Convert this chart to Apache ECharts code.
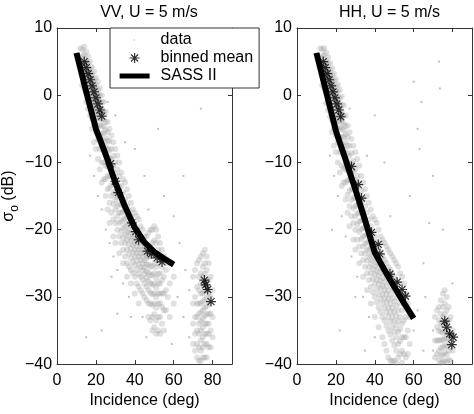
<!DOCTYPE html>
<html>
<head>
<meta charset="utf-8">
<script src="https://cdn.jsdelivr.net/npm/echarts@6/dist/echarts.min.js"></script>
<style>
html,body{margin:0;padding:0;background:#fff;}
#chart{width:474px;height:414px;}
</style>
</head>
<body>
<div id="chart"></div>
<script>
// ---------- DATA ----------
const panelTitles = ['VV, U = 5 m/s', 'HH, U = 5 m/s'];
const xAxisName = 'Incidence (deg)';
const yAxisName = '{s|σ}{o|o}{s| (dB)}';
const legendNames = ['data', 'binned mean', 'SASS II'];

// gray measurement cloud, per incidence column: [incidence, [sigma0 values]]
const vvCloud = [
 [12,[7,5.5,4.5]],
 [13,[6.8,5.8,4.2,3,1.5]],
 [14,[7.2,6,5,4.4,3.6,2.5,1]],
 [15,[6.5,5.2,4.6,3.8,3,2.2,0.5,-1]],
 [16,[5.8,4.8,4,3.4,2.6,1.8,0.8,-0.6,-2]],
 [17,[5,4,3.3,2.6,1.8,1,0.2,-1.2,-3]],
 [18,[4.2,3.2,2.4,1.8,1,0.2,-0.8,-2,-3.5,-5]],
 [19,[3.5,2.4,1.5,0.8,0,-0.8,-1.8,-3,-4.5,-7]],
 [20,[2.6,1.6,0.8,0,-0.8,-1.6,-2.6,-3.8,-5.5,-8]],
 [21,[2,0.8,0,-0.8,-1.6,-2.4,-3.4,-4.6,-6.5,-9.5]],
 [22,[1,0,-1,-1.8,-2.6,-3.4,-4.4,-6,-8,-11]],
 [23,[0,-1,-2,-2.8,-3.6,-4.6,-5.8,-7.5,-10,-13]],
 [24,[-1,-2.4,-3.6,-4.6,-5.6,-6.8,-8.2,-10,-12.5]],
 [25,[-2.5,-4,-5.2,-6.4,-7.6,-9,-10.5,-12.5,-15]],
 [26,[-4,-5.5,-6.8,-8,-9.2,-10.6,-12,-14,-17]],
 [27,[-5,-6.8,-8.2,-9.4,-10.6,-12,-13.8,-16,-19]],
 [28,[-6,-8,-9.5,-10.8,-12,-13.4,-15,-17.5]],
 [29,[-7,-9,-10.5,-12,-13.2,-14.6,-16.2,-18.5,-21]],
 [30,[-8,-10,-11.6,-13,-14.3,-15.6,-17,-19,-22]],
 [31,[-9,-11,-12.6,-14,-15.2,-16.5,-18,-20]],
 [32,[-10,-12,-13.6,-15,-16.2,-17.5,-19,-21,-23.5]],
 [33,[-11.5,-13.5,-15,-16.3,-17.5,-18.8,-20.2,-22]],
 [34,[-12.5,-14.5,-16,-17.3,-18.5,-19.8,-21.2,-23,-25]],
 [35,[-13,-15.5,-17,-18.3,-19.5,-20.7,-22,-24]],
 [36,[-14,-16.5,-18,-19.2,-20.3,-21.5,-23,-25,-27]],
 [37,[-15,-17.2,-18.8,-20,-21,-22.2,-23.6,-25.5]],
 [38,[-16,-18,-19.5,-20.6,-21.6,-22.8,-24.2,-26,-28]],
 [39,[-17,-19,-20.3,-21.3,-22.3,-23.4,-24.8,-26.5]],
 [40,[-17.5,-19.5,-21,-22,-23,-24,-25.3,-27,-29.5]],
 [41,[-18,-20,-21.5,-22.5,-23.5,-24.6,-26,-28]],
 [42,[-18.5,-20.5,-22,-23,-24,-25.2,-26.6,-28.5,-31]],
 [43,[-19.5,-21,-22.5,-23.5,-24.5,-25.6,-27,-29]],
 [44,[-20,-21.6,-23,-24,-25,-26,-27.4,-29.5]],
 [45,[-21,-22.5,-23.6,-24.6,-25.6,-26.6,-28,-30]],
 [46,[-21,-23,-24.2,-25.2,-26.2,-27.2,-28.5,-30.5]],
 [47,[-20.5,-22.5,-24,-25.2,-26.4,-27.6,-29,-31,-33]],
 [48,[-20,-22.5,-24,-25.5,-26.8,-28,-29.4,-31,-33.5]],
 [49,[-20,-22,-23.8,-25.4,-26.8,-28.2,-29.6,-31.2,-33,-35]],
 [50,[-19.5,-21.6,-23.4,-25,-26.5,-28,-29.5,-31,-32.6,-34.5]],
 [51,[-20,-22,-24,-25.6,-27.2,-28.6,-30,-31.6,-33.5,-35.5]],
 [52,[-21,-23,-25,-26.6,-28,-29.5,-31,-33,-35]],
 [53,[-22,-24.5,-26.5,-28,-29.5,-31,-33,-35.5]],
 [54,[-23,-25.5,-27.5,-29.5,-31.5,-34]],
 [55,[-24,-27,-29.5,-32,-35]],
 [56,[-26,-29,-32]],
 [57,[-25,-30]],
 [58,[-28,-33]],
 [60,[-27,-31]],
 [70,[-27,-31,-34,-37]],
 [71,[-26,-30,-33,-35.5,-38]],
 [72,[-25,-28.5,-31,-33,-35,-37,-39]],
 [73,[-24.5,-27,-29,-31,-32.5,-34,-35.5,-37.5,-39.5]],
 [74,[-24,-26.5,-28,-29.5,-31,-32.3,-33.6,-35,-36.5,-38,-39.5]],
 [75,[-23.5,-25.5,-27,-28.3,-29.5,-30.7,-32,-33.2,-34.5,-36,-37.5,-39]],
 [76,[-23,-25,-26.6,-28,-29.2,-30.4,-31.6,-32.8,-34,-35.5,-37,-39]],
 [77,[-24,-26,-27.6,-29,-30.2,-31.4,-32.6,-34,-35.5,-37,-39]],
 [78,[-25,-27.5,-29.5,-31,-32.5,-34,-35.5,-37.5]],
 [79,[-27,-30,-32.5,-35,-37.5]],
 [80,[-29,-33,-36]]
];
// isolated single samples (small specks)
const vvOutliers = [[30,-3],[45,-12],[52,-5],[60,-18],[63,-22],[74,-2],[38,-33],[28,-27],[15,-36],[23,-35],[31,-32.5],[65,-12],[55,-15],[40,-8],
 [17,-9],[19,-12],[21,-15],[23,-17],[25,-20],[27,-22],[29,-24],[31,-26],[34,-28],[37,-30],[44,-33],[46,-36],
 [62,-30],[65,-33],[68,-29],[68,-36],[59,-37],[66,-26],[47,-17],[35,-7],[26,-1]];

const hhCloud = [
 [12,[7,5.5,4.5]],
 [13,[6.8,5.8,4.2,3,1.5]],
 [14,[7,6,5,4.3,3.5,2.4,1]],
 [15,[6.3,5.1,4.4,3.7,2.9,2,0.4,-1.2]],
 [16,[5.6,4.6,3.8,3.2,2.4,1.6,0.6,-0.8,-2.2]],
 [17,[4.8,3.8,3,2.4,1.6,0.8,0,-1.4,-3.2]],
 [18,[4,3,2.2,1.5,0.8,0,-1,-2.2,-3.8,-5.5]],
 [19,[3.2,2.2,1.3,0.5,-0.3,-1.1,-2,-3.3,-5,-7.5]],
 [20,[2.4,1.3,0.5,-0.3,-1.1,-1.9,-2.9,-4.2,-6,-8.5]],
 [21,[1.6,0.5,-0.4,-1.2,-2,-2.8,-3.8,-5,-7,-10]],
 [22,[0.8,-0.4,-1.4,-2.2,-3,-3.8,-4.8,-6.3,-8.5,-11.5]],
 [23,[-0.2,-1.4,-2.4,-3.2,-4,-5,-6.2,-7.8,-10.5,-13.5]],
 [24,[-1.5,-3,-4.2,-5.2,-6.2,-7.4,-8.8,-10.8,-13]],
 [25,[-3,-4.6,-5.8,-7,-8.2,-9.5,-11,-13,-15.5]],
 [26,[-4.5,-6.2,-7.5,-8.7,-9.9,-11.2,-12.7,-14.8,-17.5]],
 [27,[-5.5,-7.5,-9,-10.2,-11.4,-12.6,-14.2,-16.5,-19.5]],
 [28,[-6.5,-8.6,-10.2,-11.5,-12.7,-14,-15.6,-18]],
 [29,[-7.5,-9.8,-11.4,-12.8,-14,-15.3,-16.8,-19,-21.5]],
 [30,[-8.5,-11,-12.6,-14,-15.2,-16.5,-18,-20,-23]],
 [31,[-9.5,-12,-13.6,-15,-16.3,-17.6,-19.2,-21.5]],
 [32,[-10.5,-13,-14.8,-16.2,-17.5,-18.8,-20.3,-22.5,-25]],
 [33,[-12,-14.2,-16,-17.4,-18.6,-19.9,-21.4,-23.5]],
 [34,[-13,-15.5,-17.2,-18.6,-19.8,-21,-22.5,-24.5,-27]],
 [35,[-14,-16.5,-18.3,-19.7,-20.9,-22.1,-23.6,-25.5]],
 [36,[-15,-17.5,-19.3,-20.7,-21.9,-23.1,-24.6,-26.5,-29]],
 [37,[-16,-18.5,-20.3,-21.7,-22.9,-24.1,-25.6,-27.5]],
 [38,[-17,-19.5,-21.2,-22.6,-23.8,-25,-26.5,-28.5,-31]],
 [39,[-18,-20.3,-22,-23.4,-24.6,-25.8,-27.3,-29.3]],
 [40,[-18.5,-21,-22.8,-24.2,-25.4,-26.6,-28,-30,-33]],
 [41,[-19,-21.8,-23.6,-25,-26.2,-27.4,-28.8,-30.8]],
 [42,[-20,-22.5,-24.3,-25.7,-26.9,-28.1,-29.6,-31.6,-34.5]],
 [43,[-21,-23.3,-25,-26.4,-27.6,-28.8,-30.3,-32.3]],
 [44,[-21.5,-24,-25.8,-27.2,-28.4,-29.6,-31,-33,-36]],
 [45,[-22,-24.5,-26.4,-27.8,-29,-30.2,-31.6,-33.5,-37]],
 [46,[-22.5,-25,-27,-28.4,-29.6,-30.8,-32.3,-34.3,-38]],
 [47,[-23,-25.6,-27.5,-29,-30.3,-31.6,-33,-35,-39]],
 [48,[-23.5,-26,-28,-29.6,-31,-32.3,-33.7,-35.6,-39.5]],
 [49,[-24,-26.6,-28.6,-30.2,-31.6,-33,-34.5,-36.5,-39.5]],
 [50,[-24.5,-27,-29,-30.7,-32.2,-33.6,-35.2,-37.2,-39.5]],
 [51,[-25,-27.6,-29.6,-31.3,-32.8,-34.3,-36,-38,-39.8]],
 [52,[-25.5,-28,-30.2,-32,-33.6,-35.2,-37,-39]],
 [53,[-26.5,-29,-31,-33,-34.8,-36.6,-38.5]],
 [54,[-27,-29.8,-32,-34,-36,-38,-39.8]],
 [55,[-28,-31,-33.5,-36,-38.5]],
 [56,[-29.5,-33,-36,-39]],
 [57,[-31,-35,-38.5]],
 [58,[-33,-37]],
 [71,[-33,-36.5,-39]],
 [72,[-32,-34.5,-36.5,-38.5]],
 [73,[-31.5,-33.5,-35,-36.5,-38,-39.5]],
 [74,[-30.5,-32.5,-34,-35.2,-36.4,-37.6,-38.8,-39.8]],
 [75,[-29.5,-31.5,-33,-34.2,-35.3,-36.4,-37.5,-38.6,-39.7]],
 [76,[-29,-31,-32.6,-33.8,-35,-36.1,-37.2,-38.3,-39.5]],
 [77,[-30,-32,-33.6,-35,-36.2,-37.4,-38.6,-39.7]],
 [78,[-31.5,-33.5,-35.2,-36.6,-38,-39.4]],
 [79,[-33,-35.5,-37.5,-39.5]],
 [80,[-35,-38]]
];
const hhOutliers = [[62,-5],[63,-8],[64,-1],[68,-19],[65,-25],[45,-10],[30,-30],[18,-20],[58,-15],[70,-12],[75,-20],[80,-28],[60,2],[22,-35],[35,-38],[40,-3],[73,5],[73.5,1],
 [17,-9],[19,-12],[21,-15],[23,-18],[25,-21],[28,-24],[31,-27],[34,-30],[37,-33],[40,-36],
 [60,-35],[62,-32],[65,-38],[70,-35],[70,-38],[66,-30],[48,-18],[36,-9],[27,-2]];

// binned means (asterisks)
const vvBinned = [[14,5],[15,4.1],[16,3.2],[17,2.3],[18,1.4],[19,0.5],[20,-0.4],[21,-1.3],[22,-2.2],[23,-3.1],
 [27.5,-10.2],[30,-12.8],[31.5,-14.5],[38.5,-19],[40.5,-20.3],[42,-21.5],[46.5,-23.2],[48.5,-23.6],[51.5,-24.2],[54,-24.8],
 [75.8,-27.5],[76.5,-28.2],[77.5,-28.9],[79.2,-30.7]];
const hhBinned = [[13.5,5],[14.5,4.1],[15.5,3.2],[16.5,2.3],[17.5,1.4],[18.5,0.5],[19.5,-0.4],[20.5,-1.3],[21.5,-2.2],[22.5,-3.2],
 [28,-10.6],[31.5,-13.3],[33.2,-15.3],[38.3,-20.4],[41.8,-22.2],[42.6,-23.6],[47.8,-26.6],[51.5,-27.8],[54,-28.9],[55.8,-29.9],
 [76,-33.6],[77,-34.5],[78.5,-35.5],[80.3,-36],[79.6,-37.1]];

// SASS II model curves
const vvSass = [[10,6.3],[15,0.5],[20,-5],[25,-8.8],[30,-13],[35,-16.6],[40,-19.7],[45,-21.9],[50,-23.3],[55,-24.3],[60,-25.2]];
const hhSass = [[10,6.3],[15,0.5],[20,-5.3],[25,-9.6],[30,-14],[35,-18.6],[40,-23.4],[45,-26],[50,-28.5],[55,-30.9],[60,-33.2]];

// ---------- CHART ----------
const FONT = '"Liberation Sans", Arial, Helvetica, sans-serif';
const flatten = cols => cols.flatMap(([x, ys]) => ys.map(y => [x, y]));
const ASTER = 'path://M5,0V10M0,5H10M1.5,1.5L8.5,8.5M8.5,1.5L1.5,8.5';
const fmtNum = v => String(v).replace('-', '\u2212');

const chart = echarts.init(document.getElementById('chart'), null, {renderer: 'canvas'});

const grids = [
  {left: 56, top: 28, width: 176, height: 340},
  {left: 297, top: 28, width: 175, height: 340}
];
const axisLineStyle = {color: '#333', width: 1};
const xAxes = [], yAxes = [];
grids.forEach((g, i) => {
  xAxes.push({
    gridIndex: i, type: 'value', min: 0, max: 90, interval: 20, position: 'bottom',
    name: xAxisName, nameLocation: 'middle', nameGap: 27,
    nameTextStyle: {fontFamily: FONT, fontSize: 16, color: '#000'},
    axisLine: {show: true, onZero: false, lineStyle: axisLineStyle},
    axisTick: {show: true, inside: true, length: 4, lineStyle: axisLineStyle},
    axisLabel: {show: true, margin: 8, fontFamily: FONT, fontSize: 16, color: '#000', showMaxLabel: false, formatter: fmtNum},
    splitLine: {show: false}
  });
  xAxes.push({
    gridIndex: i, type: 'value', min: 0, max: 90, interval: 20, position: 'top',
    axisLine: {show: true, onZero: false, lineStyle: axisLineStyle},
    axisTick: {show: true, inside: true, length: 4, lineStyle: axisLineStyle},
    axisLabel: {show: false}, splitLine: {show: false}
  });
  yAxes.push({
    gridIndex: i, type: 'value', min: -40, max: 10, interval: 10, position: 'left',
    name: i === 0 ? yAxisName : '', nameLocation: 'middle', nameRotate: 90, nameGap: 32,
    nameTextStyle: {
      fontFamily: FONT, color: '#000',
      rich: {
        s: {fontFamily: FONT, fontSize: 16, lineHeight: 24, color: '#000', verticalAlign: 'middle'},
        o: {fontFamily: FONT, fontSize: 12, lineHeight: 10, color: '#000', verticalAlign: 'bottom'}
      }
    },
    axisLine: {show: true, onZero: false, lineStyle: axisLineStyle},
    axisTick: {show: true, inside: true, length: 4, lineStyle: axisLineStyle},
    axisLabel: {show: true, margin: 5, fontFamily: FONT, fontSize: 16, color: '#000', formatter: fmtNum},
    splitLine: {show: false}
  });
  yAxes.push({
    gridIndex: i, type: 'value', min: -40, max: 10, interval: 10, position: 'right',
    axisLine: {show: true, onZero: false, lineStyle: axisLineStyle},
    axisTick: {show: true, inside: true, length: 4, lineStyle: axisLineStyle},
    axisLabel: {show: false}, splitLine: {show: false}
  });
});

const clouds = [flatten(vvCloud), flatten(hhCloud)];
const specks = [vvOutliers, hhOutliers];
const binned = [vvBinned, hhBinned];
const sass = [vvSass, hhSass];
const series = [];
[0, 1].forEach(i => {
  series.push({
    name: legendNames[0], type: 'scatter', xAxisIndex: i * 2, yAxisIndex: i * 2,
    data: clouds[i], symbol: 'circle', symbolSize: 6,
    itemStyle: {color: '#a0a0a0', opacity: 0.32}, silent: true, z: 1
  });
  series.push({
    name: legendNames[0], type: 'scatter', xAxisIndex: i * 2, yAxisIndex: i * 2,
    data: specks[i], symbol: 'rect', symbolSize: 2,
    itemStyle: {color: '#b0b0b0'}, silent: true, z: 1
  });
  series.push({
    name: legendNames[2], type: 'line', xAxisIndex: i * 2, yAxisIndex: i * 2,
    data: sass[i], showSymbol: false, symbol: 'none',
    lineStyle: {color: '#000', width: 6, cap: 'butt', join: 'round'},
    itemStyle: {color: '#000'}, silent: true, z: 2
  });
  series.push({
    name: legendNames[1], type: 'scatter', xAxisIndex: i * 2, yAxisIndex: i * 2,
    data: binned[i], symbol: ASTER, symbolSize: 10,
    itemStyle: {color: '#000', borderColor: '#000', borderWidth: 1.2}, silent: true, z: 3
  });
});

const option = {
  animation: false,
  backgroundColor: '#fff',
  textStyle: {fontFamily: FONT},
  title: panelTitles.map((t, i) => ({
    text: t, left: grids[i].left + grids[i].width / 2, top: 0, textAlign: 'center',
    textStyle: {fontFamily: FONT, fontSize: 16, fontWeight: 'normal', color: '#000'}
  })),
  grid: grids,
  xAxis: xAxes,
  yAxis: yAxes,
  legend: {
    orient: 'vertical', left: 110, top: 28, padding: [4, 6, 4, 9],
    itemWidth: 36, itemHeight: 14, itemGap: 2,
    backgroundColor: '#fff', borderColor: '#333', borderWidth: 1,
    textStyle: {fontFamily: FONT, fontSize: 16, color: '#000'},
    selectedMode: false,
    data: [
      {name: legendNames[0], icon: 'path://M0,0M36,14M14,6.5h1v1h-1z', itemStyle: {color: '#a8a8a8', opacity: 1}},
      {name: legendNames[1], icon: 'path://M0,0M36,14M15,2V12M10,7H20M11.5,3.5L18.5,10.5M18.5,3.5L11.5,10.5', itemStyle: {color: '#000', borderColor: '#000', borderWidth: 1.2}},
      {name: legendNames[2], icon: 'path://M0,0M36,14M0,4.5h30v5h-30z', itemStyle: {color: '#000', borderWidth: 0}}
    ]
  },
  series: series
};
chart.setOption(option);
</script>
</body>
</html>
